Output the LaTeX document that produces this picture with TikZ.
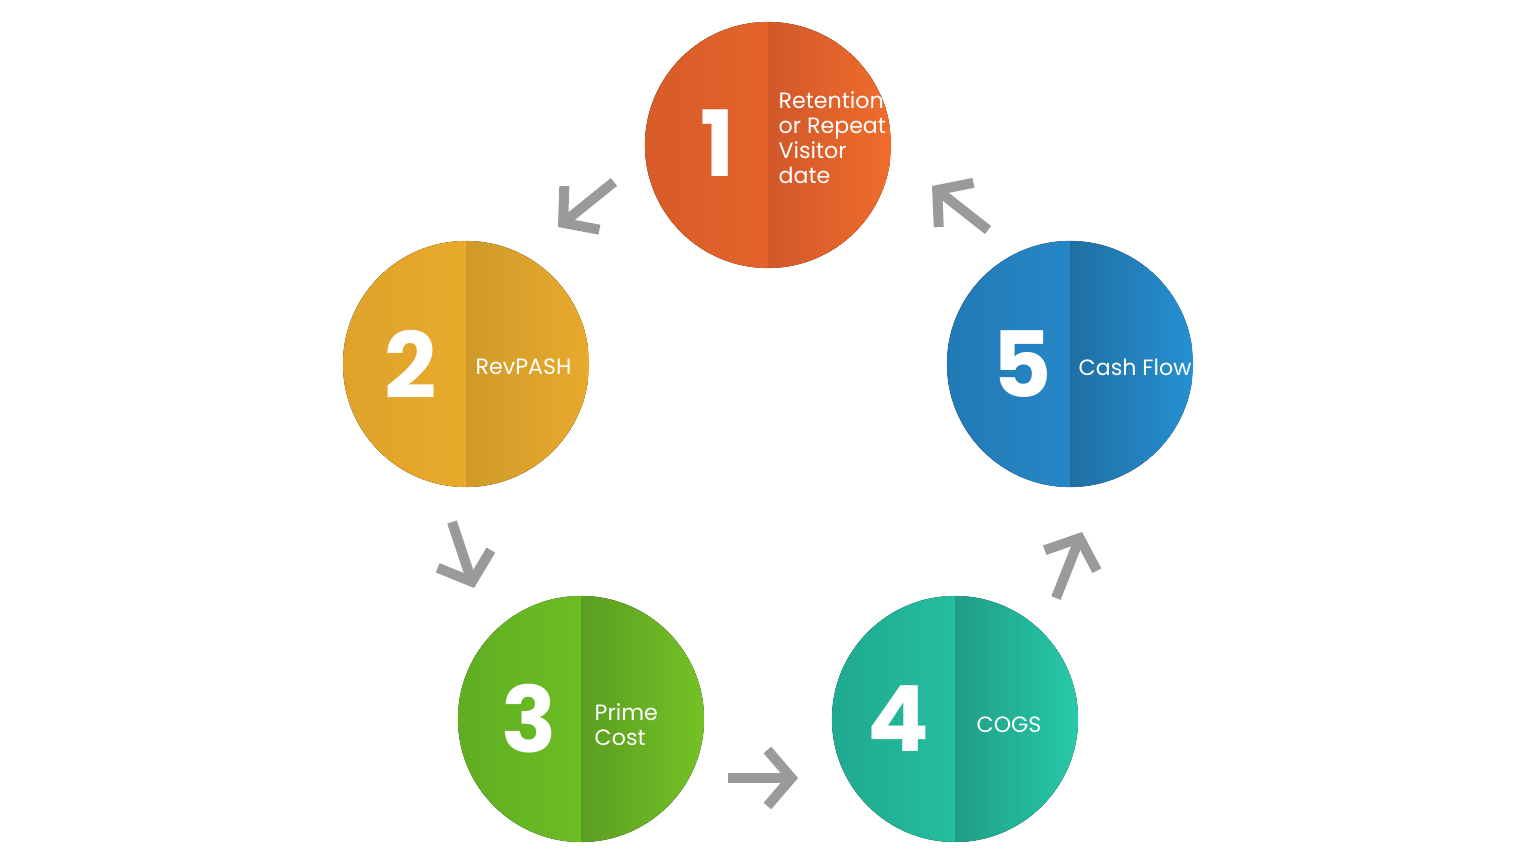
\documentclass[tikz,border=0pt]{standalone}
\usepackage{fontspec}
\setmainfont{Poppins}
\usetikzlibrary{arrows.meta}
\definecolor{arrowgray}{HTML}{9A9A9A}
\definecolor{orA}{HTML}{D75B29}\definecolor{orB}{HTML}{F06C2C}\definecolor{orC}{HTML}{D1582A}
\definecolor{yeA}{HTML}{DFA22B}\definecolor{yeB}{HTML}{F0B32B}\definecolor{yeC}{HTML}{CF9A2A}\definecolor{yeD}{HTML}{E8AA2C}
\definecolor{grA}{HTML}{5FAE22}\definecolor{grB}{HTML}{7BCB27}\definecolor{grC}{HTML}{5A9E21}\definecolor{grD}{HTML}{75C226}
\definecolor{tqA}{HTML}{1FAA8F}\definecolor{tqB}{HTML}{2BD1B0}\definecolor{tqC}{HTML}{1E9E85}\definecolor{tqD}{HTML}{27C9A9}
\definecolor{blA}{HTML}{2279B5}\definecolor{blB}{HTML}{2A95D6}\definecolor{blC}{HTML}{1F6FA3}\definecolor{blD}{HTML}{2690D2}

\tikzset{
  step/.style n args={4}{circle, minimum size=2.46cm, inner sep=0pt,
    path picture={
      \fill[left color=#1, right color=#2] (path picture bounding box.south west) rectangle (path picture bounding box.north);
      \fill[left color=#3, right color=#4] (path picture bounding box.south) rectangle (path picture bounding box.north east);
    }},
  num/.style={text=white, font=\fontsize{26}{26}\selectfont\bfseries},
  lbl/.style={text=white, font=\fontsize{6.3}{7.1}\selectfont, align=left, anchor=west, inner sep=0pt},
  flow/.style={arrowgray, line width=0.1cm, line cap=butt,
    -{Straight Barb[length=0.24cm, width=0.56cm, line width=0.1cm]}}
}

\begin{document}
\begin{tikzpicture}[x=0.01cm, y=-0.01cm]
\useasboundingbox (0,0) rectangle (1536,864);

% circles
\node[step={orA}{orB}{orC}{orB}] (c1) at (768,145) {};
\node[step={yeA}{yeB}{yeC}{yeD}] (c2) at (466,364) {};
\node[step={grA}{grB}{grC}{grD}] (c3) at (581,719) {};
\node[step={tqA}{tqB}{tqC}{tqD}] (c4) at (955,719) {};
\node[step={blA}{blB}{blC}{blD}] (c5) at (1070,364) {};

% numbers and labels
\node[num] at ([xshift=-0.5cm, yshift=0.02cm]c1) {1};
\node[lbl] at ([xshift=0.1cm, yshift=0.07cm]c1) {Retention\\or Repeat\\Visitor\\date};
\node[num] at ([xshift=-0.55cm]c2) {2};
\node[lbl] at ([xshift=0.09cm, yshift=-0.03cm]c2) {RevPASH};
\node[num] at ([xshift=-0.52cm]c3) {3};
\node[lbl] at ([xshift=0.13cm, yshift=-0.06cm]c3) {Prime\\Cost};
\node[num] at ([xshift=-0.57cm]c4) {4};
\node[lbl] at ([xshift=0.21cm, yshift=-0.06cm]c4) {COGS};
\node[num] at ([xshift=-0.48cm]c5) {5};
\node[lbl] at ([xshift=0.08cm, yshift=-0.03cm]c5) {Cash Flow};

% arrow ends
\coordinate (a1) at (614,182); \coordinate (b1) at (558,227);
\coordinate (a2) at (452,522); \coordinate (b2) at (474,588);
\coordinate (a3) at (728,778); \coordinate (b3) at (798,778);
\coordinate (a4) at (1056,598); \coordinate (b4) at (1082,532);
\coordinate (a5) at (988,230); \coordinate (b5) at (932,186);

\draw[flow] (a1) -- (b1);
\draw[flow] (a2) -- (b2);
\draw[flow] (a3) -- (b3);
\draw[flow] (a4) -- (b4);
\draw[flow] (a5) -- (b5);
\end{tikzpicture}
\end{document}
